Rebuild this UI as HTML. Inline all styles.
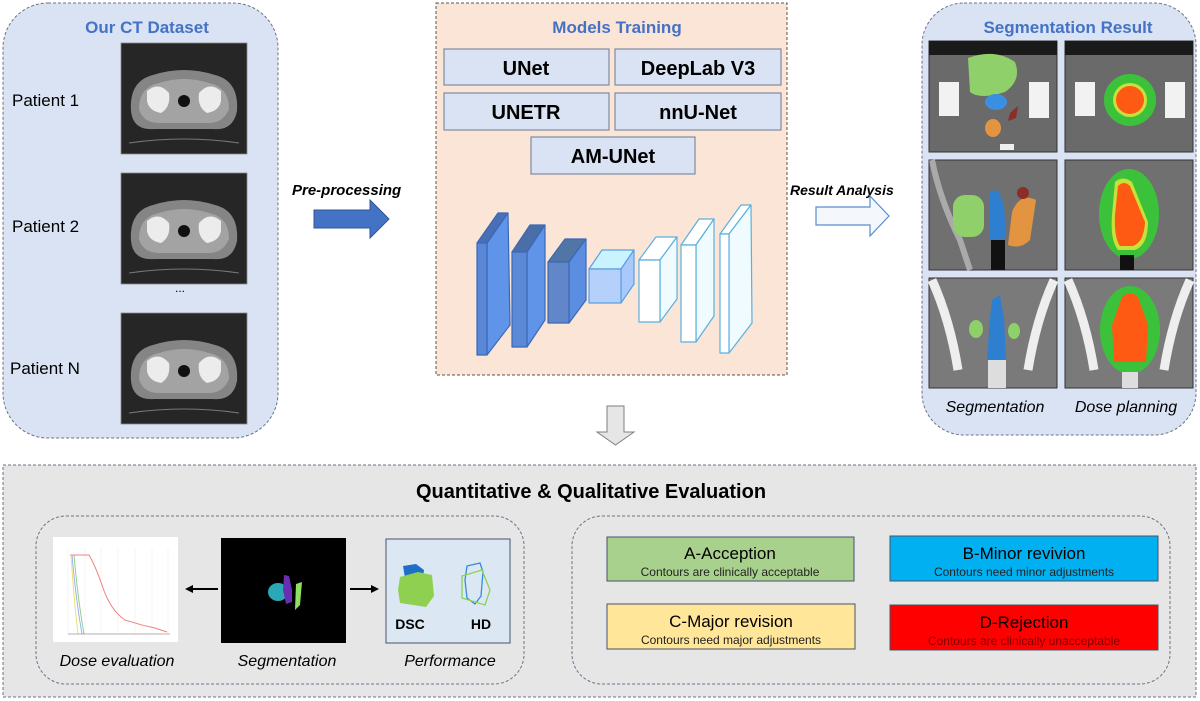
<!DOCTYPE html>
<html><head><meta charset="utf-8"><style>
html,body{margin:0;padding:0;background:#fff;}
svg{display:block;font-family:"Liberation Sans",Arial,sans-serif;}
</style></head><body>
<svg width="1200" height="701" viewBox="0 0 1200 701" xmlns="http://www.w3.org/2000/svg">
<defs>
<g id="ct">
  <rect x="0" y="0" width="126" height="111" fill="#262626" stroke="#888" stroke-width="0.8"/>
  <path d="M10 68 Q8 38 32 32 Q63 22 94 32 Q118 38 116 68 Q112 88 92 86 L34 86 Q12 88 10 68Z" fill="#858585"/>
  <path d="M18 66 Q18 44 38 40 Q63 32 88 40 Q108 44 108 66 Q102 80 88 80 L38 80 Q22 80 18 66Z" fill="#a3a3a3"/>
  <path d="M26 48 Q38 38 48 50 Q50 64 40 70 Q28 68 26 58Z" fill="#ececec"/>
  <path d="M100 48 Q88 38 78 50 Q76 64 86 70 Q98 68 100 58Z" fill="#ececec"/>
  <circle cx="63" cy="58" r="6" fill="#111"/>
  <path d="M8 100 Q63 92 118 100" stroke="#777" fill="none" stroke-width="1"/>
</g>
</defs>

<!-- Left panel -->
<rect x="3" y="3" width="275" height="435" rx="45" fill="#dae3f3" stroke="#6b7388" stroke-width="1" stroke-dasharray="3,2"/>
<text x="147" y="33" text-anchor="middle" font-size="17" font-weight="bold" fill="#4472c4">Our CT Dataset</text>
<use href="#ct" x="121" y="43"/>
<use href="#ct" x="121" y="173"/>
<use href="#ct" x="121" y="313"/>
<text x="12" y="106" font-size="17" fill="#000">Patient 1</text>
<text x="12" y="232" font-size="17" fill="#000">Patient 2</text>
<text x="10" y="374" font-size="17" fill="#000">Patient N</text>
<text x="175" y="292" font-size="12" fill="#000">...</text>

<!-- Pre-processing -->
<text x="292" y="195" font-size="15" font-weight="bold" font-style="italic" fill="#000">Pre-processing</text>
<path d="M314 210 L370 210 L370 200 L389 219 L370 238 L370 228 L314 228Z" fill="#4472c4" stroke="#2f5597" stroke-width="1"/>

<!-- Middle panel -->
<rect x="436" y="3" width="351" height="372" fill="#fbe5d6" stroke="#555" stroke-width="1" stroke-dasharray="3,2"/>
<text x="617" y="33" text-anchor="middle" font-size="17" font-weight="bold" fill="#4472c4">Models Training</text>
<g font-size="20" font-weight="bold" text-anchor="middle" fill="#000">
<rect x="444" y="49" width="165" height="36" fill="#dae3f3" stroke="#7f8aa0" stroke-width="1.2"/>
<text x="526" y="75">UNet</text>
<rect x="615" y="49" width="166" height="36" fill="#dae3f3" stroke="#7f8aa0" stroke-width="1.2"/>
<text x="698" y="75">DeepLab V3</text>
<rect x="444" y="93" width="165" height="37" fill="#dae3f3" stroke="#7f8aa0" stroke-width="1.2"/>
<text x="526" y="119">UNETR</text>
<rect x="615" y="93" width="166" height="37" fill="#dae3f3" stroke="#7f8aa0" stroke-width="1.2"/>
<text x="698" y="119">nnU-Net</text>
<rect x="531" y="137" width="164" height="37" fill="#dae3f3" stroke="#7f8aa0" stroke-width="1.2"/>
<text x="613" y="163">AM-UNet</text>
</g>

<!-- U-Net blocks -->
<g stroke-width="1.2" stroke-linejoin="round">
<polygon points="477,243 498,213 508,213 487,243" fill="#4a6fb5" stroke="#3a68b8"/>
<polygon points="487,243 508,213 510,325 487,355" fill="#5f94e8" stroke="#3a68b8"/>
<rect x="477" y="243" width="10" height="112" fill="#5a88d6" stroke="#3a68b8"/>
<polygon points="512,252 530,225 545,225 527,252" fill="#4a6fa8" stroke="#3a68b8"/>
<polygon points="527,252 545,225 545,320 527,347" fill="#5f94e8" stroke="#3a68b8"/>
<rect x="512" y="252" width="15" height="95" fill="#5b89d6" stroke="#3a68b8"/>
<polygon points="548,262 565,239 586,239 569,262" fill="#5175a5" stroke="#3a68b8"/>
<polygon points="569,262 586,239 586,300 569,323" fill="#5b8ee0" stroke="#3a68b8"/>
<rect x="548" y="262" width="21" height="61" fill="#6187c9" stroke="#3a68b8"/>
<polygon points="589,269 602,250 634,250 621,269" fill="#c9f3ff" stroke="#5aa0e0"/>
<polygon points="621,269 634,250 634,284 621,303" fill="#a9c8fb" stroke="#5aa0e0"/>
<rect x="589" y="269" width="32" height="34" fill="#b4d0fb" stroke="#5aa0e0"/>
<polygon points="639,260 656,237 677,237 660,260" fill="#fff" stroke="#5ab0e0"/>
<polygon points="660,260 677,237 677,299 660,322" fill="#f0fbff" stroke="#5ab0e0"/>
<rect x="639" y="260" width="21" height="62" fill="#fff" stroke="#5ab0e0"/>
<polygon points="681,245 699,219 714,219 696,245" fill="#fff" stroke="#5ab0e0"/>
<polygon points="696,245 714,219 714,316 696,342" fill="#f0fbff" stroke="#5ab0e0"/>
<rect x="681" y="245" width="15" height="97" fill="#fff" stroke="#5ab0e0"/>
<polygon points="720,234 741,205 751,205 729,234" fill="#fff" stroke="#5ab0e0"/>
<polygon points="729,234 751,205 752,323 729,353" fill="#f0fbff" stroke="#5ab0e0"/>
<rect x="720" y="234" width="9" height="119" fill="#fff" stroke="#5ab0e0"/>
</g>

<!-- Down arrow -->
<path d="M607 406 L624 406 L624 432 L634 432 L615.5 445 L597 432 L607 432Z" fill="#e7e6e6" stroke="#7f7f7f" stroke-width="1"/>

<!-- Result Analysis -->
<text x="790" y="195" font-size="14" font-weight="bold" font-style="italic" fill="#000">Result Analysis</text>
<path d="M816 207 L870 207 L870 196 L889 216 L870 236 L870 225 L816 225Z" fill="#f4f8fd" stroke="#5b8bd0" stroke-width="1.2"/>

<!-- Right panel -->
<rect x="922" y="3" width="274" height="432" rx="42" fill="#dae3f3" stroke="#6b7388" stroke-width="1" stroke-dasharray="3,2"/>
<text x="1068" y="33" text-anchor="middle" font-size="17" font-weight="bold" fill="#4472c4">Segmentation Result</text>
<g>
<rect x="929" y="41" width="128" height="111" fill="#6a6a6a" stroke="#333"/>
<rect x="929" y="41" width="128" height="14" fill="#1a1a1a"/>
<rect x="939" y="82" width="20" height="34" fill="#f2f2f2"/><rect x="1029" y="82" width="20" height="36" fill="#f2f2f2"/>
<path d="M968 58 Q995 48 1015 62 Q1022 80 1005 92 Q980 100 970 92Z" fill="#8fd06a"/>
<ellipse cx="996" cy="102" rx="11" ry="8" fill="#3a8fe0"/>
<ellipse cx="993" cy="128" rx="8" ry="9" fill="#e39440"/>
<path d="M1010 113 L1018 106 L1016 118 L1008 121Z" fill="#8b2e28"/>
<rect x="1000" y="144" width="14" height="6" fill="#eee"/>
</g>
<g>
<rect x="1065" y="41" width="128" height="111" fill="#6a6a6a" stroke="#333"/>
<rect x="1065" y="41" width="128" height="14" fill="#1a1a1a"/>
<rect x="1075" y="82" width="20" height="34" fill="#f2f2f2"/><rect x="1165" y="82" width="20" height="36" fill="#f2f2f2"/>
<circle cx="1130" cy="100" r="26" fill="#3cc23a"/>
<circle cx="1130" cy="100" r="17" fill="#c8e03a"/>
<circle cx="1130" cy="100" r="14" fill="#ff5a14"/>
</g>
<g>
<rect x="929" y="160" width="128" height="110" fill="#707070" stroke="#333"/>
<path d="M932 160 Q940 200 960 240 L970 270" stroke="#aaa" stroke-width="6" fill="none"/>
<rect x="953" y="195" width="31" height="42" rx="12" fill="#8fd06a"/>
<path d="M989 192 L998 190 L1004 205 L1006 238 L990 240Z" fill="#2f7fd0"/>
<rect x="991" y="240" width="14" height="30" fill="#111"/>
<path d="M1012 212 Q1020 192 1036 200 L1030 240 Q1020 250 1008 245Z" fill="#e39440"/>
<circle cx="1023" cy="193" r="6" fill="#8b2e28"/>
</g>
<g>
<rect x="1065" y="160" width="128" height="110" fill="#707070" stroke="#333"/>
<ellipse cx="1129" cy="214" rx="30" ry="45" fill="#3cc23a"/>
<path d="M1115 182 Q1123 175 1132 182 L1148 222 Q1148 245 1135 250 L1118 250 Q1110 240 1112 215Z" fill="#c8e03a"/>
<path d="M1118 186 Q1124 180 1130 186 L1145 222 Q1144 242 1133 246 L1120 246 Q1114 238 1115 215Z" fill="#ff5a14"/>
<rect x="1120" y="255" width="14" height="15" fill="#111"/>
</g>
<g>
<rect x="929" y="278" width="128" height="110" fill="#7a7a7a" stroke="#333"/>
<path d="M932 280 Q950 320 958 370" stroke="#eee" stroke-width="9" fill="none"/>
<path d="M1054 280 Q1036 320 1028 370" stroke="#eee" stroke-width="9" fill="none"/>
<ellipse cx="976" cy="329" rx="7" ry="9" fill="#8fd06a"/>
<ellipse cx="1014" cy="331" rx="6" ry="8" fill="#8fd06a"/>
<path d="M992 300 L1000 295 L1004 318 L1006 360 L987 360 L990 318Z" fill="#2f7fd0"/>
<rect x="988" y="360" width="18" height="28" fill="#ddd"/>
</g>
<g>
<rect x="1065" y="278" width="128" height="110" fill="#7a7a7a" stroke="#333"/>
<path d="M1068 280 Q1086 320 1094 370" stroke="#eee" stroke-width="9" fill="none"/>
<path d="M1190 280 Q1172 320 1164 370" stroke="#eee" stroke-width="9" fill="none"/>
<ellipse cx="1130" cy="330" rx="30" ry="44" fill="#3cc23a"/>
<path d="M1122 297 Q1130 290 1138 297 L1148 325 L1146 362 L1114 362 L1112 325Z" fill="#ff5a14"/>
<rect x="1122" y="372" width="16" height="16" fill="#ddd"/>
</g>
<text x="995" y="412" text-anchor="middle" font-size="16" font-style="italic" fill="#000">Segmentation</text>
<text x="1126" y="412" text-anchor="middle" font-size="16" font-style="italic" fill="#000">Dose planning</text>

<!-- Bottom panel -->
<rect x="3" y="465" width="1193" height="232" fill="#e7e6e6" stroke="#6b7388" stroke-width="1" stroke-dasharray="3,2"/>
<text x="591" y="498" text-anchor="middle" font-size="20" font-weight="bold" fill="#000">Quantitative &amp; Qualitative Evaluation</text>
<rect x="36" y="516" width="488" height="168" rx="30" fill="none" stroke="#6b7388" stroke-width="1" stroke-dasharray="3,2"/>
<rect x="572" y="516" width="598" height="168" rx="30" fill="none" stroke="#6b7388" stroke-width="1" stroke-dasharray="3,2"/>

<rect x="53" y="537" width="125" height="105" fill="#fff"/>
<g stroke-width="0.3" stroke="#ddd">
<line x1="68" y1="548" x2="68" y2="634"/><line x1="85" y1="548" x2="85" y2="634"/><line x1="101" y1="548" x2="101" y2="634"/><line x1="118" y1="548" x2="118" y2="634"/><line x1="135" y1="548" x2="135" y2="634"/><line x1="152" y1="548" x2="152" y2="634"/><line x1="168" y1="548" x2="168" y2="634"/>
</g>
<path d="M70 555 L89 555 Q95 565 102 585 Q110 610 125 620 Q140 625 155 628 L167 632" stroke="#f08080" fill="none" stroke-width="1"/>
<path d="M72 555 Q76 600 82 634" stroke="#9ab0f0" fill="none" stroke-width="1"/>
<path d="M74 555 Q78 600 84 634" stroke="#8fd08f" fill="none" stroke-width="1"/>
<path d="M71 555 Q74 600 78 634" stroke="#f0e070" fill="none" stroke-width="1"/>
<line x1="68" y1="634" x2="170" y2="634" stroke="#666" stroke-width="0.5"/>

<rect x="221" y="538" width="125" height="105" fill="#000"/>
<ellipse cx="278" cy="592" rx="10" ry="9" fill="#2aa8b8"/>
<path d="M284 575 L289 576 L292 590 L292 602 L286 604 L283 590Z" fill="#6a2fb0"/>
<path d="M296 584 L302 582 L300 605 L295 610Z" fill="#8ee060"/>

<line x1="192" y1="589" x2="218" y2="589" stroke="#000" stroke-width="2"/>
<path d="M185 589 L193 585 L193 593Z" fill="#000"/>
<line x1="350" y1="589" x2="372" y2="589" stroke="#000" stroke-width="2"/>
<path d="M379 589 L371 585 L371 593Z" fill="#000"/>

<rect x="386" y="539" width="124" height="104" fill="#dce7f4" stroke="#44546a" stroke-width="1"/>
<path d="M403 566 L416 564 L424 570 L423 577 L405 578Z" fill="#1f6fc8"/>
<path d="M400 577 L418 572 L432 575 L434 596 L426 607 L400 603 L398 590Z" fill="#8fd050"/>
<path d="M467 566 L480 563 L483 572 L481 596 L475 604 L467 598 L465 580Z" fill="none" stroke="#2f8ee0" stroke-width="1.3"/>
<path d="M462 576 L482 570 L490 590 L485 605 L462 598Z" fill="none" stroke="#8fd050" stroke-width="1.3"/>
<text x="410" y="629" text-anchor="middle" font-size="14" font-weight="bold" fill="#000">DSC</text>
<text x="481" y="629" text-anchor="middle" font-size="14" font-weight="bold" fill="#000">HD</text>

<g font-size="16" font-style="italic" fill="#000" text-anchor="middle">
<text x="117" y="666">Dose evaluation</text>
<text x="287" y="666">Segmentation</text>
<text x="450" y="666">Performance</text>
</g>

<rect x="607" y="537" width="247" height="44" fill="#a9d18e" stroke="#44546a" stroke-width="1"/>
<text x="730" y="559" text-anchor="middle" font-size="17" fill="#000">A-Acception</text>
<text x="730" y="576" text-anchor="middle" font-size="12" fill="#222">Contours are clinically acceptable</text>
<rect x="890" y="536" width="268" height="45" fill="#00b0f0" stroke="#44546a" stroke-width="1"/>
<text x="1024" y="559" text-anchor="middle" font-size="17" fill="#000">B-Minor revivion</text>
<text x="1024" y="576" text-anchor="middle" font-size="12" fill="#222">Contours need minor adjustments</text>
<rect x="607" y="604" width="248" height="45" fill="#ffe699" stroke="#44546a" stroke-width="1"/>
<text x="731" y="627" text-anchor="middle" font-size="17" fill="#000">C-Major revision</text>
<text x="731" y="644" text-anchor="middle" font-size="12" fill="#222">Contours need major adjustments</text>
<rect x="890" y="605" width="268" height="45" fill="#ff0000" stroke="#44546a" stroke-width="1"/>
<text x="1024" y="628" text-anchor="middle" font-size="17" fill="#000">D-Rejection</text>
<text x="1024" y="645" text-anchor="middle" font-size="12" fill="#7a0000">Contours are clinically unacceptable</text>
</svg>
</body></html>
